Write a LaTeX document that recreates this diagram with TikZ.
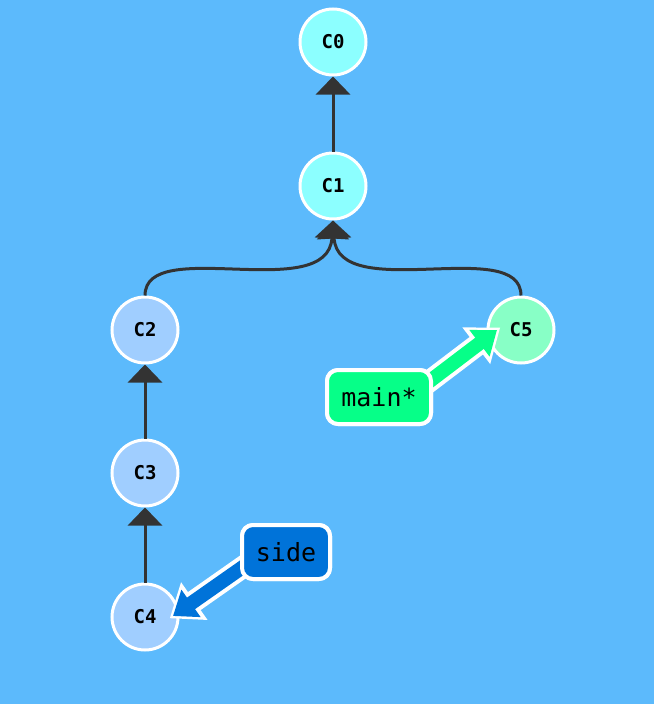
\documentclass[tikz,border=0pt]{standalone}
\usepackage{fontspec}
\setmonofont{DejaVu Sans Mono}
\usetikzlibrary{arrows.meta}
\definecolor{bg}{HTML}{5CBAFC}
\definecolor{cyanc}{HTML}{8CFFFF}
\definecolor{bluec}{HTML}{A0CEFF}
\definecolor{greenc}{HTML}{88FFC6}
\definecolor{mainc}{HTML}{06FF88}
\definecolor{sidec}{HTML}{0073D9}
\definecolor{dk}{HTML}{333333}
\begin{document}
\begin{tikzpicture}[x=1pt,y=-1pt,
 commit/.style={circle,draw=white,line width=3pt,minimum size=66pt,inner sep=0pt,font=\ttfamily\bfseries\fontsize{19}{19}\selectfont},
 lbl/.style={draw=white,line width=4pt,rounded corners=11pt,minimum height=54pt,inner sep=6pt,font=\ttfamily\fontsize{25}{25}\selectfont},
 edge/.style={dk,line width=3pt,-{Triangle[width=34pt,length=18pt]}},
 fatw/.style={white,line width=22pt,-{Triangle[width=44pt,length=30pt]}},
 fat/.style={line width=14pt,-{Triangle[width=32pt,length=22pt]}}]
\fill[bg] (0,0) rectangle (654,704);
\node[commit,fill=cyanc] (c0) at (333,42) {C0};
\node[commit,fill=cyanc] (c1) at (333,186) {C1};
\node[commit,fill=bluec] (c2) at (145,330) {C2};
\node[commit,fill=bluec] (c3) at (145,473) {C3};
\node[commit,fill=bluec] (c4) at (145,617) {C4};
\node[commit,fill=greenc] (c5) at (521,330) {C5};
\draw[edge] (c1) -- (c0);
\draw[edge] (c3) -- (c2);
\draw[edge] (c4) -- (c3);
\draw[edge] (c2.north) .. controls (145,235) and (328,305) .. (c1.south);
\draw[edge] (c5.north) .. controls (521,235) and (338,305) .. (c1.south);
\node[lbl,fill=mainc,minimum width=104pt] (m) at (379,397) {main*};
\node[lbl,fill=sidec,minimum width=88pt] (s) at (286,552) {side};
\coordinate (mt) at (497,330);
\coordinate (ms) at (418,390);
\coordinate (st) at (173,616);
\coordinate (ss) at (250,562);
\draw[fatw,shorten >=-4pt] (ms) -- (mt);
\draw[fat,mainc] (ms) -- (mt);
\draw[fatw,shorten >=-4pt] (ss) -- (st);
\draw[fat,sidec] (ss) -- (st);
\node[lbl,fill=mainc,minimum width=104pt] at (m) {main*};
\node[lbl,fill=sidec,minimum width=88pt] at (s) {side};
\end{tikzpicture}
\end{document}
